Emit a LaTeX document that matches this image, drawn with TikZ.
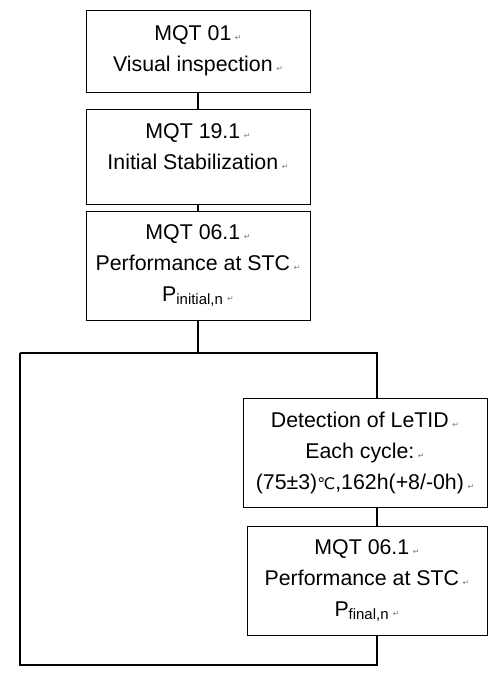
\documentclass[tikz,border=0pt]{standalone}
\usepackage{fontspec}
\setmainfont{Liberation Sans}
\newfontfamily\symfont{DejaVu Sans}
\usepackage{tikz}
\newcommand{\pmark}{\,{\symfont\fontsize{6}{6}\selectfont\color{gray}↵}}
\newcommand{\degc}{{\symfont\fontsize{12}{12}\selectfont ℃}}

\begin{document}
\begin{tikzpicture}[x=0.75pt, y=-0.75pt,
	box/.style={draw, line width=0.75pt, inner sep=0pt, align=center,
		font=\fontsize{16}{23.25}\selectfont},
	link/.style={line width=1.5pt}]
	\useasboundingbox (0,0) rectangle (501,693);
	
	% main column
	\node[box, minimum width=168pt, minimum height=61.5pt] (insp) at (198,51)
		{MQT 01\pmark\\Visual inspection\pmark};
	\node[box, minimum width=168pt, minimum height=71.25pt, text depth=15pt] (stab) at (198,156.5)
		{MQT 19.1\pmark\\Initial Stabilization\pmark};
	\node[box, minimum width=168pt, minimum height=81.75pt] (perf) at (198,265.5)
		{MQT 06.1\pmark\\Performance at STC\pmark\\P\textsubscript{initial,n}\pmark};
	
	% loop
	\node[box, minimum width=183pt, minimum height=81.75pt] (letid) at (365,452.5)
		{Detection of LeTID\pmark\\Each cycle:\pmark\\(75±3)\degc,162h(+8/-0h)\pmark};
	\node[box, minimum width=180pt, minimum height=81.75pt] (final) at (367,580.5)
		{MQT 06.1\pmark\\Performance at STC\pmark\\P\textsubscript{final,n}\pmark};
	
	\coordinate (split) at (198,353);
	\coordinate (topL) at (20,353);
	\coordinate (topR) at (377,353);
	\coordinate (botL) at (20,665);
	\coordinate (botR) at (377,665);
	
	\draw[link] (insp) -- (stab);
	\draw[link] (stab) -- (perf);
	\draw[link] (perf) -- (split);
	\draw[link] (topL) -- (topR) -- (topR |- letid.north);
	\draw[link] (topR |- letid.south) -- (topR |- final.north);
	\draw[link] (topR |- final.south) -- (botR) -- (botL) -- (topL);
\end{tikzpicture}
\end{document}
